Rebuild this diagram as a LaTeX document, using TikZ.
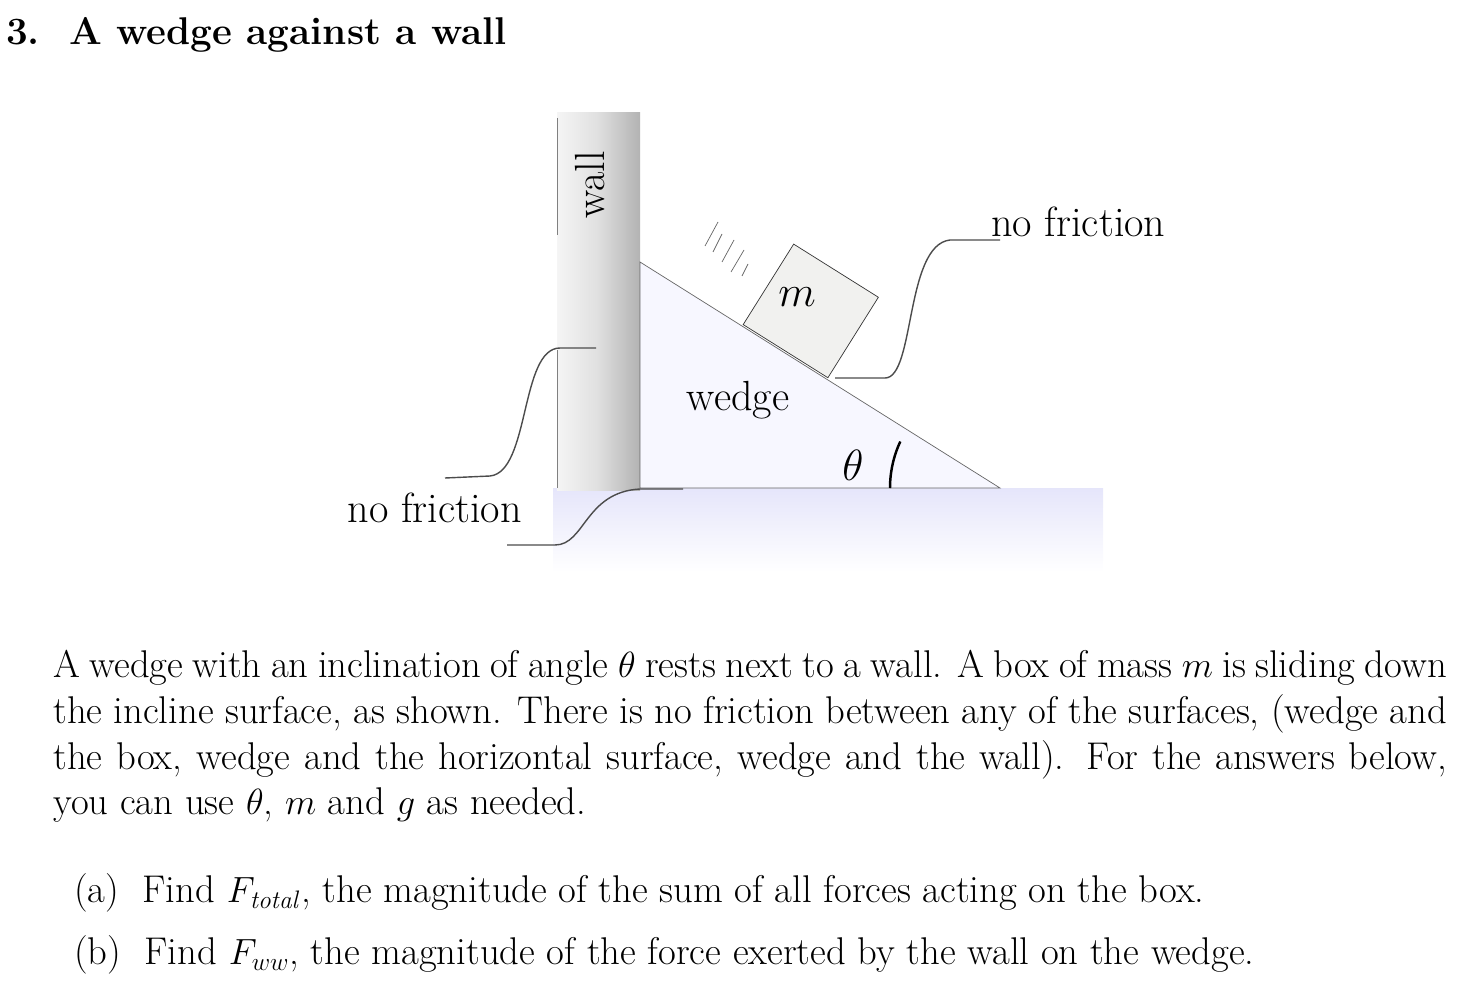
\documentclass[tikz,border=0pt]{standalone}
\usepackage{amsmath}
\begin{document}
\begin{tikzpicture}[x=0.02cm,y=-0.02cm,
  lead/.style={draw=black!70,line width=0.8pt},
  lbl/.style={font=\fontsize{22}{26}\selectfont},
  flbl/.style={font=\fontsize{24}{28}\selectfont}]
\useasboundingbox (0,0) rectangle (1476,1000);
\node[lbl,anchor=west] (title) at (0,35) {\textbf{3.\ \ A wedge against a wall}};
% floor
\shade[top color=black!18!blue!10, bottom color=white] (553,488) rectangle (1103,572);
% wall
\shade[left color=black!4, right color=black!12] (557,113) rectangle (597,490);
\shade[left color=black!12, right color=black!30] (597,113) rectangle (640,490);
\draw[black!50] (557,118) -- (557,235) (557,350) -- (557,488);
\node[flbl,rotate=90] (wall) at (590,185) {wall};
% wedge
\draw[black!60,fill=blue!3] (640,262) -- (1000,488) -- (640,488) -- cycle;
\node[flbl] (wedge) at (738,400) {wedge};
% box
\begin{scope}[shift={(785,352)},rotate=-32.1]
\draw[black!80,fill=yellow!8!black!7] (-50,-1) rectangle (50,-96);
\end{scope}
\node[flbl,font=\fontsize{28}{30}\selectfont] (m) at (797,297) {$m$};
% motion lines
\draw[black!60] (705,246)--(718,222) (713,252)--(722,234) (722,262)--(734,240) (731,272)--(744,250) (742,276)--(748,264);
% angle
\node[flbl,font=\fontsize{28}{30}\selectfont] (th) at (853,465) {$\theta$};
\draw[line width=1.4pt] (890,488) arc[start angle=180,end angle=205,radius=110];
% leaders
\node[flbl,anchor=west] (nf1) at (985,222) {no friction};
\draw[lead] (835,378) -- (885,378) .. controls (915,378) and (905,245) .. (950,240) -- (1000,240);
\node[flbl,anchor=east] (nf2) at (528,508) {no friction};
\draw[lead] (596,348) -- (560,348) .. controls (520,348) and (530,472) .. (490,476) -- (445,478);
\draw[lead] (507,545) -- (555,545) .. controls (585,545) and (585,492) .. (640,489) -- (683,489);
% text
\node[lbl,anchor=north west,text width=27.88cm,align=justify,inner sep=0pt] (para) at (53,650)
{A wedge with an inclination of angle $\theta$ rests next to a wall. A box of mass $m$ is sliding down the incline surface, as shown. There is no friction between any of the surfaces, (wedge and the box, wedge and the horizontal surface, wedge and the wall). For the answers below, you can use $\theta$, $m$ and $g$ as needed.};
\node[lbl,anchor=west] (qa) at (68,893) {(a)\ \ Find $F_{\mathit{total}}$, the magnitude of the sum of all forces acting on the box.};
\node[lbl,anchor=west] (qb) at (68,955) {(b)\ \ Find $F_{ww}$, the magnitude of the force exerted by the wall on the wedge.};
\end{tikzpicture}
\end{document}
